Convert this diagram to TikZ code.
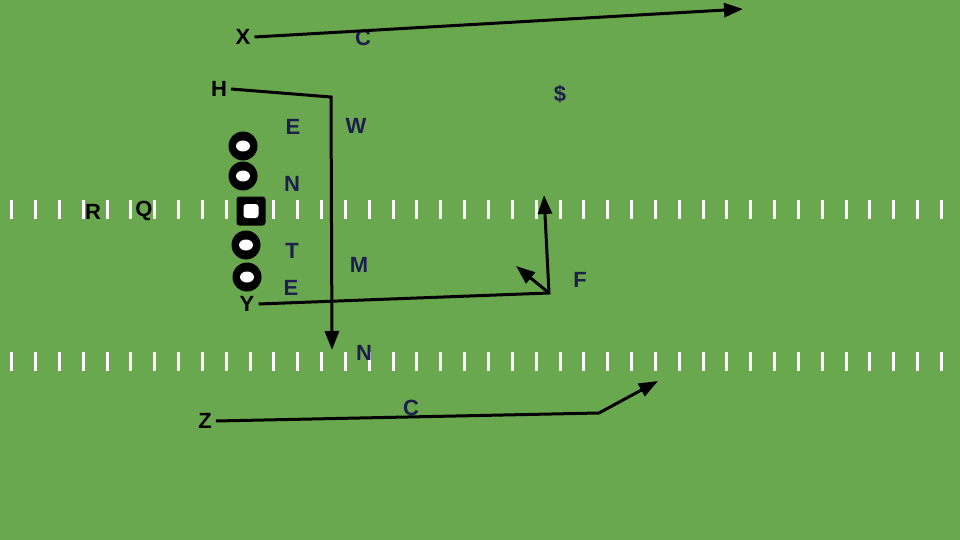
\documentclass[tikz,border=0pt]{standalone}
\usepackage{fontspec}
\setmainfont{Liberation Sans}
\usetikzlibrary{arrows.meta}
\definecolor{turf}{RGB}{106,168,79}
\definecolor{defcol}{RGB}{30,30,78}
\tikzset{
  offense/.style={font=\bfseries\fontsize{22}{22}\selectfont, text=black, inner sep=4pt},
  defense/.style={font=\bfseries\fontsize{22}{22}\selectfont, text=defcol, inner sep=1pt},
  olman/.style={circle, fill=black, minimum size=29pt, inner sep=0pt,
    path picture={\fill[white] (path picture bounding box.center) ellipse (7pt and 5.5pt);}},
  center/.style={rectangle, rounded corners=3pt, fill=black, minimum size=29pt, inner sep=0pt,
    path picture={\fill[white] ([shift={(-7.5pt,-7pt)}]path picture bounding box.center) rectangle ++(15pt,14pt);}},
  route/.style={line width=3pt},
  tip/.style={-{Triangle[length=19pt,width=14pt]}}
}
\begin{document}
\begin{tikzpicture}[x=1pt,y=-1pt]
  \fill[turf] (0,0) rectangle (960,540);
  \useasboundingbox (0,0) rectangle (960,540);
  % hash marks
  \foreach \i in {0,...,39} {
    \fill[white] ({11.7+23.84*\i-1.5},200) rectangle ++(3,19);
    \fill[white] ({11.7+23.84*\i-1.5},352) rectangle ++(3,19);
  }
  \draw
    (243,146) node[olman] (o1){}
    (243,176) node[olman] (o2){}
    (251,211) node[center] (o3){}
    (246,245) node[olman] (o4){}
    (247,277) node[olman] (o5){}
    (243,37) node[offense] (X){X}
    (219,89) node[offense] (H){H}
    (247,304) node[offense] (Y){Y}
    (205,421) node[offense] (Z){Z}
    (93,212) node[offense] (R){R}
    (144,211) node[offense] (Q){Q}
    (363,38) node[defense] (c1){C}
    (293,127) node[defense] (e1){E}
    (356,126) node[defense] (W){W}
    (560,94) node[defense] (S){\$}
    (292,184) node[defense] (n1){N}
    (292,251) node[defense] (T){T}
    (359,265) node[defense] (M){M}
    (291,288) node[defense] (e2){E}
    (580,280) node[defense] (F){F}
    (364,353) node[defense] (n2){N}
    (411,408) node[defense] (c2){C};
  \coordinate (xt) at (743,9);
  \coordinate (h1) at (331,97);
  \coordinate (ht) at (332,350);
  \coordinate (y1) at (549,293);
  \coordinate (yt) at (544,195);
  \coordinate (ys) at (516,266);
  \coordinate (z1) at (599,413);
  \coordinate (zt) at (658,381);
  \begin{scope}[route]
    \draw[tip] (X.east) to (xt);
    \draw[tip] (H.east) -- (h1) -- (ht);
    \draw[tip] (Y.east) -- (y1) -- (yt);
    \draw[tip] (y1) to (ys);
    \draw[tip] (Z.east) -- (z1) -- (zt);
  \end{scope}
\end{tikzpicture}
\end{document}
